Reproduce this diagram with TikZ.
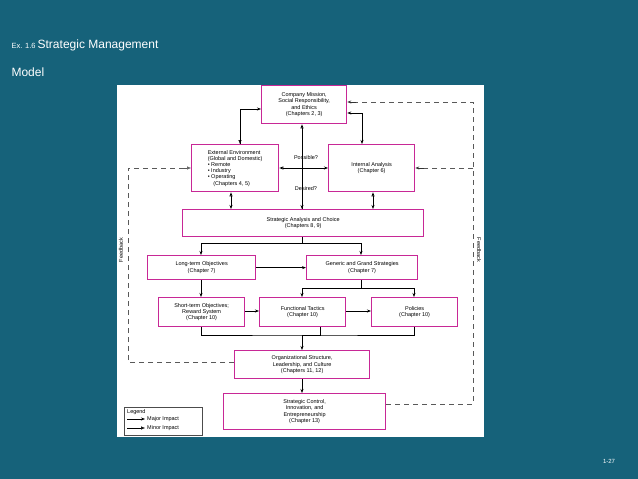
\documentclass[tikz,border=0pt]{standalone}
\usepackage{fontspec}
\setmainfont{Liberation Sans}
\usetikzlibrary{arrows.meta}
\definecolor{bg}{RGB}{22,98,122}
\definecolor{mag}{RGB}{200,40,150}
\begin{document}
\begin{tikzpicture}[x=1pt,y=-1pt,
  bx/.style={draw=mag,line width=1.3pt,fill=white,align=center,font=\fontsize{5.5}{6.2}\selectfont,inner sep=1pt,anchor=north west},
  maj/.style={-{Stealth[length=4pt,width=3pt]},line width=0.7pt},
  mnr/.style={-{Triangle[open,length=4pt,width=3pt]},line width=0.7pt},
  fb/.style={dashed,dash pattern=on 5pt off 4pt,line width=0.8pt,gray!70!black},
  lbl/.style={font=\fontsize{5.5}{6}\selectfont}]
\fill[bg] (0,0) rectangle (638,479);
\useasboundingbox (0,0) rectangle (638,479);
\fill[white] (117,85) rectangle (484,437);
\node[anchor=west,text=white,font=\fontsize{10}{12}\selectfont] (t1) at (8,45) {\fontsize{7.5}{9}\selectfont Ex. 1.6 \fontsize{12}{14}\selectfont Strategic Management};
\node[anchor=west,text=white,font=\fontsize{12}{14}\selectfont] (t2) at (8,72) {Model};
\node[text=white,font=\fontsize{6}{7}\selectfont] (pg) at (609,461) {1-27};
% boxes
\node[bx,minimum width=85pt,minimum height=38pt] (mis) at (261,85) {Company Mission,\\Social Responsibility,\\and Ethics\\(Chapters 2, 3)};
\node[bx,minimum width=87pt,minimum height=47pt,align=left] (ext) at (191,144) {External Environment\\(Global and Domestic)\\\textbullet\ Remote\\\textbullet\ Industry\\\textbullet\ Operating\\\quad(Chapters 4, 5)};
\node[bx,minimum width=86pt,minimum height=47pt] (int) at (328,144) {Internal Analysis\\(Chapter 6)};
\node[bx,minimum width=241pt,minimum height=27pt] (sac) at (182,209) {Strategic Analysis and Choice\\(Chapters 8, 9)};
\node[bx,minimum width=108pt,minimum height=24pt] (lto) at (147,255) {Long-term Objectives\\(Chapter 7)};
\node[bx,minimum width=111pt,minimum height=24pt] (gen) at (306,255) {Generic and Grand Strategies\\(Chapter 7)};
\node[bx,minimum width=86pt,minimum height=29pt] (sto) at (158,297) {Short-term Objectives;\\Reward System\\(Chapter 10)};
\node[bx,minimum width=86pt,minimum height=29pt] (fun) at (259,297) {Functional Tactics\\(Chapter 10)};
\node[bx,minimum width=86pt,minimum height=29pt] (pol) at (371,297) {Policies\\(Chapter 10)};
\node[bx,minimum width=135pt,minimum height=28pt] (org) at (234,350) {Organizational Structure,\\Leadership, and Culture\\(Chapters 11, 12)};
\node[bx,minimum width=162pt,minimum height=36pt] (ctl) at (223,393) {Strategic Control,\\Innovation, and\\Entrepreneurship\\(Chapter 13)};
\node[draw=gray!60!black,line width=0.8pt,anchor=north west,minimum width=78pt,minimum height=28pt] (leg) at (124,407) {};
\node[lbl,anchor=north west,inner sep=1pt] (legt) at (126,408) {Legend};
\coordinate (la1) at (127,419); \coordinate (la2) at (145,419);
\coordinate (lb1) at (127,428); \coordinate (lb2) at (145,428);
\draw[maj] (la1) -- (la2); \draw[mnr] (lb1) -- (lb2);
\node[lbl,anchor=west,inner sep=1pt] (lgm) at (146,419) {Major Impact};
\node[lbl,anchor=west,inner sep=1pt] (lgn) at (146,428) {Minor Impact};
% connections top
\draw[maj] (240,144) |- (mis.west |- 0,109);
\draw[mnr] (240,130) -- (240,144);
\draw[maj,{Stealth[length=4pt,width=3pt]}-{Stealth[length=4pt,width=3pt]}] (mis.east |- 0,113) -| (362,144);
\draw[mnr] (302,209) -- (mis.south -| 302,0);
\draw[maj] (302,200) -- (sac.north -| 302,0);
\draw[mnr] (305,168) -- (ext.east |- 0,168);
\draw[maj] (290,168) -- (int.west |- 0,168);
\node[lbl] (pos) at (306,158) {Possible?};
\node[lbl] (des) at (306,189) {Desired?};
\draw[maj] (231,198) -- (sac.north -| 231,0);
\draw[mnr] (231,202) -- (ext.south -| 231,0);
\draw[maj] (373,198) -- (sac.north -| 373,0);
\draw[mnr] (373,202) -- (int.south -| 373,0);
% middle
\coordinate (s1) at (302,243);
\draw[line width=0.7pt] (sac.south -| 302,0) -- (s1);
\draw[maj] (s1) -| (lto.north -| 201,0);
\draw[maj] (s1) -| (gen.north -| 361,0);
\draw[maj] (lto.east) -- (gen.west);
\draw[maj] (lto.south -| 201,0) -- (sto.north -| 201,0);
\coordinate (s2) at (361,288);
\draw[line width=0.7pt] (gen.south -| 361,0) -- (s2);
\draw[maj] (s2) -| (fun.north -| 302,0);
\draw[maj] (s2) -| (pol.north -| 414,0);
\draw[maj] (sto.east |- 0,311) -- (fun.west |- 0,311);
\draw[maj] (fun.east |- 0,311) -- (pol.west |- 0,311);
\coordinate (s3) at (302,335);
\draw[line width=0.7pt] (sto.south -| 201,0) |- (s3) -| (pol.south -| 414,0);
\draw[line width=0.7pt] (fun.south -| 320,0) |- (s3);
\draw[maj] (s3) -- (org.north -| 302,0);
\draw[maj] (org.south -| 302,0) -- (ctl.north -| 302,0);
% feedback
\draw[fb] (org.west |- 0,362) -| (128,168) -- (185,168);
\draw[-{Triangle[open,length=4pt,width=3pt]},line width=0.7pt,gray!70!black] (180,168) -- (ext.west |- 0,168);
\draw[fb] (ctl.east |- 0,404) -| (473,102) -- (352,102);
\draw[-{Stealth[length=4pt,width=3pt]},line width=0.7pt,gray!40!black] (356,102) -- (mis.east |- 0,102);
\draw[fb] (473,168) -- (422,168);
\draw[-{Stealth[length=4pt,width=3pt]},line width=0.7pt,gray!40!black] (424,168) -- (int.east |- 0,168);
\node[lbl,rotate=90,fill=white,inner sep=0.5pt] (fbl) at (121,250) {Feedback};
\node[lbl,rotate=-90,fill=white,inner sep=0.5pt] (fbr) at (479,250) {Feedback};
\end{tikzpicture}
\end{document}
